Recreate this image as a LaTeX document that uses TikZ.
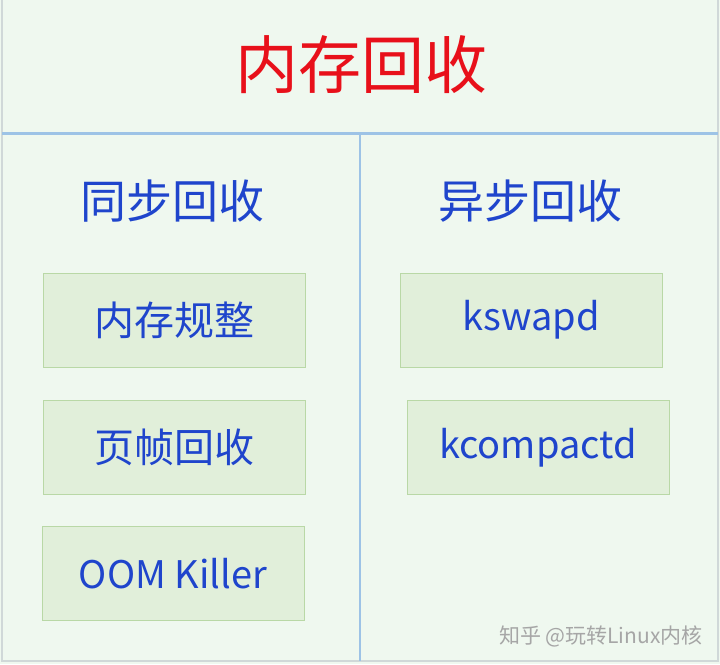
\documentclass[tikz,border=0pt]{standalone}
\usepackage{fontspec}
\setmainfont{Noto Sans CJK SC}
\definecolor{bgc}{HTML}{EFF8EF}
\definecolor{boxfill}{HTML}{E1EFDA}
\definecolor{boxline}{HTML}{B9D8A6}
\definecolor{bluetxt}{HTML}{1F45CC}
\definecolor{blueline}{HTML}{9DC3E6}
\definecolor{edgec}{HTML}{D0D8D8}
\definecolor{titlered}{HTML}{E8101A}
\tikzset{
  itembox/.style={draw=boxline, fill=boxfill, line width=1pt, minimum width=262pt, minimum height=94pt, text=bluetxt, font=\fontsize{40}{44}\selectfont, inner sep=0pt},
  latinbox/.style={itembox, font=\fontsize{38}{42}\selectfont},
  heading/.style={text=bluetxt, font=\fontsize{46}{50}\selectfont, inner sep=0pt},
}
\begin{document}
\begin{tikzpicture}[x=1pt,y=-1pt]
\useasboundingbox (0,0) rectangle (720,664);
\fill[bgc] (0,0) rectangle (720,664);
\draw[edgec, line width=1.5pt] (2,0) -- (2,661) -- (718,661) -- (718,0);
\draw[blueline, line width=3pt] (2,133) -- (718,133);
\draw[blueline, line width=1.5pt] (360,134) -- (360,661);
\node[text=titlered, font=\fontsize{63}{66}\selectfont, inner sep=0pt] (title) at (361,65) {内存回收};
\node[heading] (sync) at (172,201) {同步回收};
\node[heading] (async) at (530,201) {异步回收};
\node[itembox] (b1) at (174.5,320) {内存规整};
\node[itembox] (b2) at (174.5,447) {页帧回收};
\node[latinbox] (b3) at (173,573.5) {OOM Killer};
\node[latinbox] (b4) at (531,320) {kswapd};
\node[latinbox] (b5) at (538,447.5) {kcompactd};
\node[text=gray!70, font=\fontsize{21}{24}\selectfont, anchor=east, inner sep=0pt] (wm) at (703,636) {知乎 @玩转Linux内核};
\end{tikzpicture}
\end{document}
